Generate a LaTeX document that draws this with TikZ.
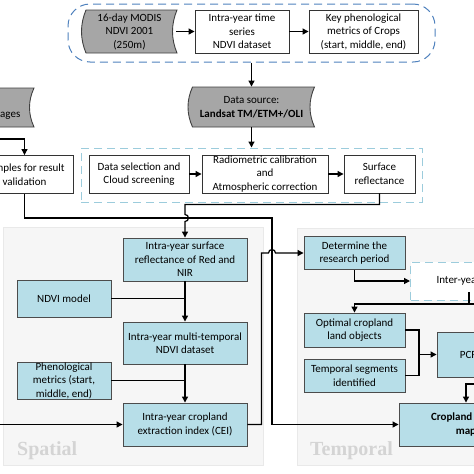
\documentclass[tikz,border=0pt]{standalone}
\usepackage{fontspec}
\setmainfont{Carlito}
\newfontfamily\panelfont{Liberation Serif}
\usetikzlibrary{arrows.meta}

\definecolor{cajaazul}{HTML}{B7DEE8}
\definecolor{gristape}{HTML}{A6A6A6}
\definecolor{azulgrupo}{HTML}{4F81BD}
\definecolor{celeste}{HTML}{9CCCDC}
\definecolor{panelgris}{HTML}{F6F6F6}
\definecolor{bordepanel}{HTML}{E9E9E9}
\definecolor{rotulogris}{HTML}{D4D4D4}

\tikzset{
  caja/.style={draw=black!80, line width=0.9pt, fill=white, align=center, inner sep=0pt,
    font=\fontsize{11}{13.5}\selectfont},
  celda/.style={caja, fill=cajaazul, draw=black!70},
  cinta/.style={caja, draw=none, fill=none},
  flecha/.style={line width=1.2pt, -{Triangle[length=6pt,width=6pt]}},
  linea/.style={line width=1.2pt},
  grupo/.style={draw=azulgrupo, line width=1pt, dash pattern=on 8pt off 5pt, rounded corners=22pt},
  grupoclaro/.style={draw=celeste, line width=1pt, dash pattern=on 8pt off 5pt},
  panel/.style={fill=panelgris, draw=bordepanel, line width=0.8pt},
  rotulo/.style={font=\panelfont\bfseries\fontsize{20}{20}\selectfont, text=rotulogris,
    anchor=base west, inner sep=0pt}
}

% Cinta gris: nombre, x, y, ancho, alto, texto
\newcommand{\cinta}[6]{%
  \pgfmathsetmacro{\cintaL}{#2-#4/2}
  \pgfmathsetmacro{\cintaR}{#2+#4/2}
  \pgfmathsetmacro{\cintaT}{#3-#5/2}
  \pgfmathsetmacro{\cintaB}{#3+#5/2}
  \pgfmathsetmacro{\cintaU}{#3-#5/6}
  \pgfmathsetmacro{\cintaD}{#3+#5/6}
  \filldraw[fill=gristape, draw=black!75, line width=0.9pt]
    (\cintaL+3,\cintaT) .. controls (\cintaL-3,\cintaU) and (\cintaL-3,\cintaD) .. (\cintaL+3,\cintaB)
    -- (\cintaR+1,\cintaB) .. controls (\cintaR-5,\cintaD) and (\cintaR-5,\cintaU) .. (\cintaR+1,\cintaT)
    -- cycle;
  \node[cinta, minimum width=#4pt, minimum height=#5pt] (#1) at (#2,#3) {#6};
}

\begin{document}
\begin{tikzpicture}[x=1pt,y=-1pt]
\useasboundingbox (0,0) rectangle (474,474);

% Paneles de fondo
\draw[panel] (3,227) rectangle (263,465);
\draw[panel] (297,228) rectangle (490,465);
\node[rotulo] (espacial) at (17,455) {Spatial};
\node[rotulo] (temporal) at (310,455) {Temporal};

% Grupo MODIS
\node[grupo, minimum width=367pt, minimum height=58pt] (modisgrp) at (251.5,33) {};
\cinta{modis}{129.5}{31.5}{93}{43}{16-day MODIS\\NDVI 2001\\(250m)}
\node[caja, minimum width=94pt, minimum height=43pt] (serie) at (242,31.5) {Intra-year time\\series\\NDVI dataset};
\node[caja, minimum width=109pt, minimum height=43pt] (metricas) at (363.5,31.5) {Key phenological\\metrics of Crops\\(start, middle, end)};
\draw[flecha] (modis) -- (serie);
\draw[flecha] (serie) -- (metricas);

% Fuente de datos
\cinta{fuente}{251.5}{107}{124}{40}{Data source:\\\textbf{Landsat TM/ETM+/OLI}}
\draw[flecha] (modisgrp.south) -- (fuente.north);

% Preprocesamiento
\node[grupoclaro, minimum width=341pt, minimum height=54pt] (prepro) at (251.5,175) {};
\draw[flecha] (fuente.south) -- (prepro.north);
\node[caja, minimum width=100pt, minimum height=38pt] (seleccion) at (139,174) {Data selection and\\Cloud screening};
\node[caja, minimum width=126pt, minimum height=38pt] (radiometria) at (265,174) {Radiometric calibration\\and\\Atmospheric correction};
\node[caja, minimum width=71pt, minimum height=38pt] (superficie) at (379.5,174) {Surface\\reflectance};
\draw[flecha] (seleccion) -- (radiometria);
\draw[flecha] (radiometria) -- (superficie);

% Muestras
\cinta{imagenes}{-20}{107.5}{106}{39}{}
\node[anchor=base east, inner sep=0pt, font=\fontsize{11}{13.5}\selectfont] (imagenestxt) at (20.5,117) {images};
\node[caja, minimum width=97pt, minimum height=38pt] (muestras) at (24.5,174.5) {Samples for result\\validation};
\coordinate (entrada) at (-5,139);
\draw[flecha] (entrada) -| (muestras.north);

% Panel espacial
\node[celda, minimum width=124pt, minimum height=43pt] (reflect) at (185,259.5) {Intra-year surface\\reflectance of Red and\\NIR};
\node[celda, minimum width=94pt, minimum height=37pt] (modelo) at (64,298.5) {NDVI model};
\node[celda, minimum width=124pt, minimum height=42pt] (multi) at (185,343) {Intra-year multi-temporal\\NDVI dataset};
\node[celda, minimum width=94pt, minimum height=37pt] (fenol) at (64,380.5) {Phenological\\metrics (start,\\middle, end)};
\node[celda, minimum width=124pt, minimum height=43pt] (cei) at (185,424.5) {Intra-year cropland\\extraction index (CEI)};
\draw[flecha] (reflect) -- (multi);
\draw[linea] (modelo.east) -- (modelo.east -| reflect.south);
\draw[flecha] (multi) -- (cei);
\draw[linea] (fenol.east) -- (fenol.east -| multi.south);
\coordinate (izq) at (-5,424.5);
\draw[flecha] (izq) -- (cei.west);

% Panel temporal
\node[celda, minimum width=101pt, minimum height=33pt] (determinar) at (354.5,253) {Determine the\\research period};
\node[caja, grupoclaro, anchor=west, minimum height=38pt, text width=70pt, inner xsep=26pt, align=left] (interanual) at (410,281) {Inter-year};
\node[celda, minimum width=101pt, minimum height=34pt] (optimo) at (354.5,330) {Optimal cropland\\land objects};
\node[celda, minimum width=101pt, minimum height=33pt] (segmentos) at (354.5,375.5) {Temporal segments\\identified};
\node[celda, minimum width=66pt, minimum height=45pt] (pcri) at (470,354.5) {PCRI};
\node[celda, minimum width=134pt, minimum height=43pt, font=\fontsize{11}{13.5}\selectfont\bfseries] (mapa) at (466,424.5) {Cropland result\\map};

\draw[flecha] (determinar.south) |- (interanual.west);
\coordinate (intersal) at (469,292);
\coordinate (interder) at (480,304);
\draw[linea] (intersal) -- (intersal |- interder);
\draw[flecha] (interder) -| (optimo.north);
\coordinate (union) at (419,354.5);
\draw[linea] (optimo.east) -| (union);
\draw[linea] (segmentos.east) -| (union);
\draw[flecha] (union) -- (pcri.west);
\coordinate (pcrisal) at (480,384);
\draw[flecha] (pcrisal) -| (mapa.north);

% Conexiones con saltos
\coordinate (saltoA) at (185,218);
\coordinate (saltoB) at (272,253);
\coordinate (codo) at (272,218);
\draw[flecha] (superficie.south) -- ++(0,11) -| ([yshift=3.5pt]saltoA)
  arc[start angle=90, end angle=-90, radius=3.5pt] -- (reflect.north);
\draw[flecha] (muestras.south) |- (codo) |- (mapa.west);
\draw[flecha] (cei.east) -- ++(14,0) |- ([xshift=-3.5pt]saltoB)
  arc[start angle=180, end angle=0, radius=3.5pt] -- (determinar.west);
\end{tikzpicture}
\end{document}
